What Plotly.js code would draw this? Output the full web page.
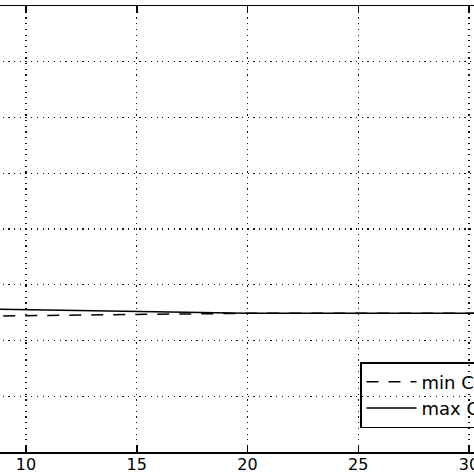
<!DOCTYPE html>
<html>
<head>
<meta charset="utf-8">
<script src="https://cdn.plot.ly/plotly-3.0.1.min.js"></script>
<style>
html,body{margin:0;padding:0;width:474px;height:474px;overflow:hidden;background:#fff;}
#chart{position:absolute;left:-200px;top:0;}
</style>
</head>
<body>
<div id="chart"></div>
<script>
// Data (y in arbitrary axis units)
const xValues = [5, 6, 7, 8, 9, 10, 11, 12, 13, 14, 15, 16, 17, 18, 19, 20, 22, 24, 26, 28, 30, 32, 34, 36];
const minSeries = [2.425, 2.43, 2.435, 2.44, 2.444, 2.448, 2.452, 2.456, 2.46, 2.464, 2.469, 2.474, 2.479, 2.484, 2.487, 2.488, 2.488, 2.488, 2.488, 2.488, 2.488, 2.488, 2.488, 2.488];
const maxSeries = [2.585, 2.578, 2.571, 2.565, 2.558, 2.551, 2.544, 2.537, 2.53, 2.522, 2.514, 2.506, 2.498, 2.492, 2.489, 2.488, 2.488, 2.488, 2.488, 2.488, 2.488, 2.488, 2.488, 2.488];
const seriesNames = ["min C", "max C"];
const xTicks = [10, 15, 20, 25, 30];
const xTickLabels = ["10", "15", "20", "25", "30"];

// Layout geometry (page pixels)
const divLeft = -200;
const plotLeftPage = -100, plotRightPage = 600;
const pxPerUnit = (469 - 26) / 20;
const xMin = 10 + (plotLeftPage - 26) / pxPerUnit;
const xMax = 10 + (plotRightPage - 26) / pxPerUnit;
const mL = plotLeftPage - divLeft;
const plotW = plotRightPage - plotLeftPage;
const mR = 40;
const mT = 6, plotH = 446, mB = 40;

const font = {family: "DejaVu Sans, sans-serif", color: "#000"};

const traces = [
  {x: xValues, y: minSeries, name: seriesNames[0], type: "scatter", mode: "lines",
   line: {color: "#000", width: 1.5, dash: "12px,10px"}},
  {x: xValues, y: maxSeries, name: seriesNames[1], type: "scatter", mode: "lines",
   line: {color: "#000", width: 1.5}}
];

const gridStyle = {showgrid: true, gridcolor: "#111", gridwidth: 1.2, griddash: "1.2px,4.5px"};

const layout = {
  width: mL + plotW + mR,
  height: mT + plotH + mB,
  margin: {l: mL, r: mR, t: mT, b: mB, pad: 0},
  paper_bgcolor: "#fff",
  plot_bgcolor: "rgba(0,0,0,0)",
  font: Object.assign({size: 16}, font),
  showlegend: true,
  legend: {
    x: (360 - plotLeftPage) / plotW, y: (452 - 362) / plotH,
    xanchor: "left", yanchor: "top",
    bgcolor: "rgba(0,0,0,0)", bordercolor: "#000", borderwidth: 1.5,
    font: Object.assign({size: 18}, font),
    itemwidth: 50,
    tracegroupgap: 0
  },
  xaxis: Object.assign({
    range: [xMin, xMax], tickvals: xTicks, ticktext: xTickLabels,
    ticks: "inside", ticklen: 7, tickwidth: 1.5, tickcolor: "#000",
    showline: true, linecolor: "#000", linewidth: 1.5, mirror: "ticks",
    zeroline: false, tickfont: Object.assign({size: 16}, font),
    ticklabelstandoff: -3
  }, gridStyle),
  yaxis: Object.assign({
    range: [0, 8], dtick: 1, showticklabels: false,
    ticks: "inside", ticklen: 7, tickcolor: "#000",
    showline: true, linecolor: "#000", linewidth: 1.5, mirror: "ticks",
    zeroline: false
  }, gridStyle)
};

Plotly.newPlot("chart", traces, layout, {staticPlot: true, displayModeBar: false});
</script>
</body>
</html>
